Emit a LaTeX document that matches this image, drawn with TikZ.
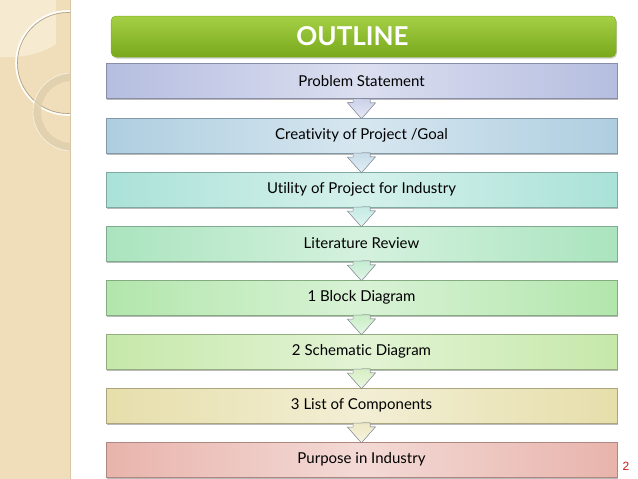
\documentclass[tikz,border=0pt]{standalone}
\usepackage{fontspec}
\setmainfont[Ligatures={NoCommon}]{Lato}
\newfontfamily\pagefont{Liberation Sans}
\usetikzlibrary{shadows,calc}

\definecolor{panelbeige}{RGB}{240,222,187}
\definecolor{panellight}{RGB}{246,234,208}
\definecolor{panelline}{RGB}{214,198,166}
\definecolor{ringtan}{RGB}{222,206,172}
\definecolor{titletop}{RGB}{164,208,70}
\definecolor{titlebottom}{RGB}{122,168,28}
\definecolor{titleline}{RGB}{132,176,40}
\definecolor{boxA}{RGB}{182,190,224}
\definecolor{boxB}{RGB}{174,206,224}
\definecolor{boxC}{RGB}{170,226,216}
\definecolor{boxD}{RGB}{170,228,190}
\definecolor{boxE}{RGB}{178,230,172}
\definecolor{boxF}{RGB}{198,232,170}
\definecolor{boxG}{RGB}{230,222,170}
\definecolor{boxH}{RGB}{232,180,172}
\definecolor{arrowline}{RGB}{140,146,160}
\definecolor{pagered}{RGB}{200,30,30}

\begin{document}
\begin{tikzpicture}[x=1pt,y=-1pt,
  topicbox/.style={draw=#1!75!black, line width=0.4pt, minimum width=511pt, minimum height=35pt,
    inner sep=0pt, font=\fontsize{15}{17}\selectfont, left color=#1, right color=#1, middle color=#1!50!white,
    drop shadow={shadow xshift=1pt, shadow yshift=-1.5pt, opacity=0.55}},
  flowarrow/.style={draw=arrowline, line width=0.5pt, top color=#1!70!white, bottom color=#1!35!white}]

\useasboundingbox (0,0) rectangle (638,479);

\fill[panelbeige] (0,0) rectangle (70,479);
\fill[panellight] (0,0) -- (56,0) -- (56,44) .. controls (40,55) and (20,58) .. (0,57) -- cycle;
\begin{scope}
\clip (0,0) rectangle (70,479);
\draw[white, line width=1.6pt] (68,63) circle (52);
\draw[panelline!80!black, line width=0.6pt] (68,63) circle (50.5);
\draw[ringtan, line width=8pt, opacity=0.8] (72,112) circle (35);
\draw[white, line width=0.6pt, opacity=0.7] (72,112) circle (39);
\end{scope}
\draw[panelline, line width=1pt] (70,0) -- (70,479);

\node[draw=titleline, line width=0.5pt, rounded corners=5pt, minimum width=505pt, minimum height=41pt,
  top color=titletop, bottom color=titlebottom, drop shadow={shadow xshift=1pt, shadow yshift=-1.5pt, opacity=0.4}]
  (title) at (363.5,36.5) {};
\node[white, font=\fontsize{26}{28}\selectfont\bfseries] (outline) at ($(title.center)+(-11,0)$) {OUTLINE};

\node[topicbox=boxA] (b1) at (361.5,81) {Problem Statement};
\node[topicbox=boxB] (b2) at (361.5,135.5) {Creativity of Project /Goal};
\node[topicbox=boxC] (b3) at (361.5,189.5) {Utility of Project for Industry};
\node[topicbox=boxD] (b4) at (361.5,243.5) {Literature Review};
\node[topicbox=boxE] (b5) at (361.5,297.5) {1 Block Diagram};
\node[topicbox=boxF] (b6) at (361.5,351.5) {2 Schematic Diagram};
\node[topicbox=boxG] (b7) at (361.5,405.5) {3 List of Components};
\node[topicbox=boxH] (b8) at (361.5,459.5) {Purpose in Industry};

\filldraw[flowarrow=boxA] (b1.south) ++(-8.5,0) -- ++(0,4) -- ++(-5.5,0) -- ($(b2.north)+(0,1)$) -- ++(14,-16) -- ++(-5.5,0) -- ++(0,-4) -- cycle;
\filldraw[flowarrow=boxB] (b2.south) ++(-8.5,0) -- ++(0,4) -- ++(-5.5,0) -- ($(b3.north)+(0,1)$) -- ++(14,-16) -- ++(-5.5,0) -- ++(0,-4) -- cycle;
\filldraw[flowarrow=boxC] (b3.south) ++(-8.5,0) -- ++(0,4) -- ++(-5.5,0) -- ($(b4.north)+(0,1)$) -- ++(14,-16) -- ++(-5.5,0) -- ++(0,-4) -- cycle;
\filldraw[flowarrow=boxD] (b4.south) ++(-8.5,0) -- ++(0,4) -- ++(-5.5,0) -- ($(b5.north)+(0,1)$) -- ++(14,-16) -- ++(-5.5,0) -- ++(0,-4) -- cycle;
\filldraw[flowarrow=boxE] (b5.south) ++(-8.5,0) -- ++(0,4) -- ++(-5.5,0) -- ($(b6.north)+(0,1)$) -- ++(14,-16) -- ++(-5.5,0) -- ++(0,-4) -- cycle;
\filldraw[flowarrow=boxF] (b6.south) ++(-8.5,0) -- ++(0,4) -- ++(-5.5,0) -- ($(b7.north)+(0,1)$) -- ++(14,-16) -- ++(-5.5,0) -- ++(0,-4) -- cycle;
\filldraw[flowarrow=boxG] (b7.south) ++(-8.5,0) -- ++(0,4) -- ++(-5.5,0) -- ($(b8.north)+(0,1)$) -- ++(14,-16) -- ++(-5.5,0) -- ++(0,-4) -- cycle;

\node[pagered, font=\pagefont\fontsize{12}{14}\selectfont] (page) at (626,466) {2};

\end{tikzpicture}
\end{document}
